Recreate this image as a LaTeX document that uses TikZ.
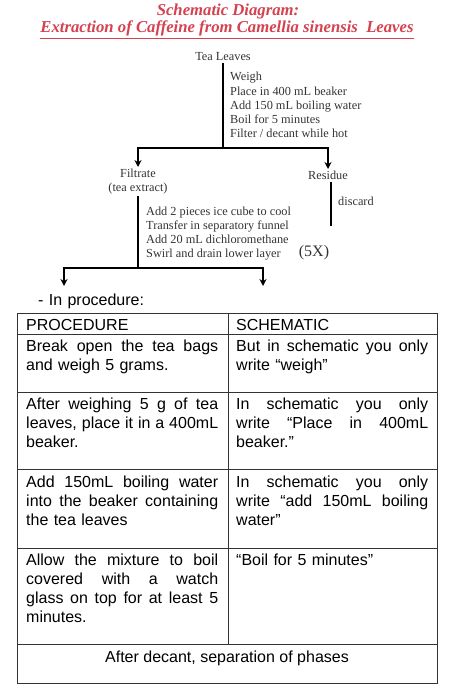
\documentclass[tikz,border=0pt]{standalone}
\usepackage{fontspec}
\setmainfont{Liberation Serif}
\newfontfamily\cellfont{Liberation Sans}
\usepackage{xcolor}
\usetikzlibrary{arrows.meta, positioning, calc}
\definecolor{titlered}{HTML}{D4414F}
\definecolor{flowtext}{HTML}{333333}
\newcommand{\jline}[1]{\makebox[192pt][s]{\spaceskip=0pt\xspaceskip=0pt #1}}

\begin{document}
\begin{tikzpicture}[
    x=1pt, y=-1pt,
    title/.style={font=\fontsize{16.7}{19}\selectfont\bfseries\itshape, text=titlered, inner sep=0pt, anchor=base},
    stepnote/.style={font=\fontsize{12.3}{14.3}\selectfont, text=flowtext, align=left, inner sep=0pt, anchor=base west},
    phase/.style={font=\fontsize{12.3}{14.3}\selectfont, text=flowtext, align=center, inner sep=2pt},
    flow/.style={line width=1.6pt, black},
    arrow/.style={flow, -{Stealth[length=7pt, width=7pt]}},
    cell/.style={font=\cellfont\fontsize{16}{19}\selectfont, align=left, text width=192pt, inner sep=0pt, anchor=base west},
    grid/.style={line width=0.9pt, black!80},
]
\useasboundingbox (0,0) rectangle (456,700);

% title
\node[title] (title1) at (228,16) {Schematic Diagram:};
\node[title] (title2) at (227,33) {\underline{Extraction of Caffeine from Camellia sinensis\ \ Leaves}};

% flow scheme (base of a multi-line note = its last line)
\node[stepnote, anchor=base, inner sep=2pt] (tea) at (223,61) {Tea Leaves};
\node[stepnote] (steps1) at (230,138) {Weigh\\Place in 400 mL beaker\\Add 150 mL boiling water\\Boil for 5 minutes\\Filter / decant while hot};
\coordinate (split1) at (223,148);
\node[phase, anchor=north] (filtrate) at (138,167) {Filtrate\\[-1pt](tea extract)};
\node[phase, anchor=north] (residue) at (328,169) {Residue};
\coordinate (disc) at (331,226);
\node[stepnote] (discard) at (338,206) {discard};
\node[stepnote] (steps2) at (146,258) {Add 2 pieces ice cube to cool\\Transfer in separatory funnel\\Add 20 mL dichloromethane\\Swirl and drain lower layer};
\node[font=\fontsize{16}{18}\selectfont, text=flowtext, inner sep=0pt, anchor=base] (times) at (314,257) {(5X)};
\coordinate (split2) at (138,268);
\coordinate (out1) at (64,286);
\coordinate (out2) at (263,286);

\draw[flow] (tea) -- (split1);
\draw[arrow] (split1) -| (filtrate.north);
\draw[arrow] (split1) -| (residue.north);
\draw[flow] (residue.south -| disc) -- (disc);
\draw[flow] (filtrate) -- (split2);
\draw[arrow] (split2) -| (out1);
\draw[arrow] (split2) -| (out2);

% table
\node[cell, anchor=base west] (intro) at (38,305) {- In procedure:};
\draw[grid] (17,313) rectangle (437,683);
\draw[grid] (228,313) -- (228,644);
\foreach \yrow in {334,392,469,548,644}
  \draw[grid] (17,\yrow) -- (437,\yrow);

\node[cell] (proc) at (26,330) {PROCEDURE};
\node[cell] (schem) at (236,330) {SCHEMATIC};
\node[cell] (proc1) at (26,351) {\jline{Break open the tea bags}\\and weigh 5 grams.};
\node[cell] (schem1) at (236,351) {\jline{But in schematic you only}\\write “weigh”};
\node[cell] (proc2) at (26,409) {\jline{After weighing 5 g of tea}\\\jline{leaves, place it in a 400mL}\\beaker.};
\node[cell] (schem2) at (236,409) {\jline{In schematic you only}\\\jline{write “Place in 400mL}\\beaker.”};
\node[cell] (proc3) at (26,487) {\jline{Add 150mL boiling water}\\\jline{into the beaker containing}\\the tea leaves};
\node[cell] (schem3) at (236,487) {\jline{In schematic you only}\\\jline{write “add 150mL boiling}\\water”};
\node[cell] (proc4) at (26,565) {\jline{Allow the mixture to boil}\\\jline{covered with a watch}\\\jline{glass on top for at least 5}\\minutes.};
\node[cell] (schem4) at (236,565) {“Boil for 5 minutes”};
\node[cell, text width=, anchor=base] (phases) at (227,662) {After decant, separation of phases};
\end{tikzpicture}
\end{document}
